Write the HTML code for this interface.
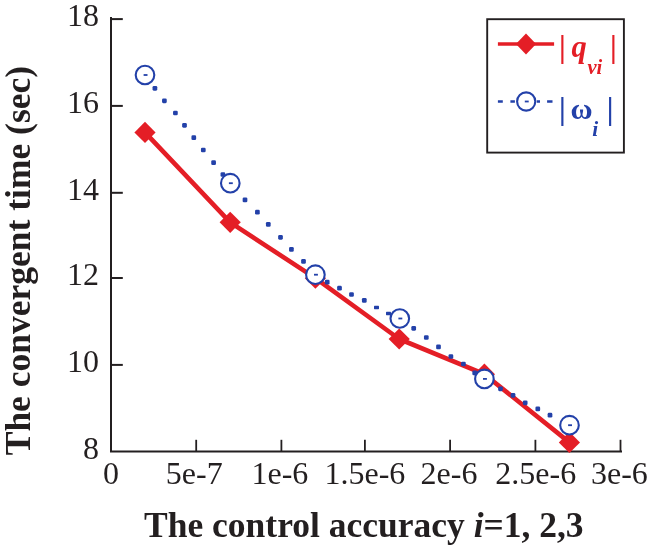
<!DOCTYPE html>
<html><head><meta charset="utf-8"><style>
html,body{margin:0;padding:0;background:#fff;}
svg{display:block;}
</style></head><body>
<svg width="648" height="549" viewBox="0 0 648 549">
<rect width="648" height="549" fill="#fff"/>
<g stroke="#231f20" stroke-width="2" fill="none">
<path d="M111 17V452.6M110 451.6H622"/>
<path d="M111 364.9H122.8"/>
<path d="M111 278.0H122.8"/>
<path d="M111 192.8H122.8"/>
<path d="M111 105.9H122.8"/>
<path d="M111 19.1H122.8"/>
<path d="M196.2 439.8V451" stroke-width="1.8"/>
<path d="M281.4 439.8V451" stroke-width="1.8"/>
<path d="M364.9 439.8V451" stroke-width="1.8"/>
<path d="M450.1 439.8V451" stroke-width="1.8"/>
<path d="M535.4 439.8V451" stroke-width="1.8"/>
<path d="M620.5 439.8V451" stroke-width="1.8"/>
</g>
<g font-family="&quot;Liberation Serif&quot;, serif" font-size="32" fill="#231f20" text-anchor="end">
<text x="99" y="458.8">8</text>
<text x="99" y="372.2">10</text>
<text x="99" y="285.3">12</text>
<text x="99" y="200.1">14</text>
<text x="99" y="113.2">16</text>
<text x="99" y="26.4">18</text>
</g>
<g font-family="&quot;Liberation Serif&quot;, serif" font-size="32" fill="#231f20" text-anchor="middle">
<text x="111.1" y="483.6">0</text>
<text x="194.2" y="483.6">5e-7</text>
<text x="279.9" y="483.6">1e-6</text>
<text x="364.9" y="483.6">1.5e-6</text>
<text x="449.0" y="483.6">2e-6</text>
<text x="535.8" y="483.6">2.5e-6</text>
<text x="619.4" y="483.6">3e-6</text>
</g>
<text x="144" y="537.4" font-family="&quot;Liberation Serif&quot;, serif" font-weight="bold" font-size="35.5" fill="#231f20">The control accuracy <tspan font-style="italic">i</tspan>=1, 2,3</text>
<text transform="translate(29.7 455.3) rotate(-90)" font-family="&quot;Liberation Serif&quot;, serif" font-weight="bold" font-size="35.5" fill="#231f20">The convergent time (sec)</text>
<polyline points="145.0,132.4 230.2,222.3 315.4,278.2 399.2,339.0 484.4,374.2 569.4,442.4" fill="none" stroke="#e41e26" stroke-width="4.6" stroke-linejoin="round"/>
<path d="M134.4 132.4L145.0 121.8L155.6 132.4L145.0 143.0Z" fill="#e41e26"/>
<path d="M219.6 222.3L230.2 211.7L240.8 222.3L230.2 232.9Z" fill="#e41e26"/>
<path d="M304.8 278.2L315.4 267.6L326.0 278.2L315.4 288.8Z" fill="#e41e26"/>
<path d="M388.6 339.0L399.2 328.4L409.8 339.0L399.2 349.6Z" fill="#e41e26"/>
<path d="M473.8 374.2L484.4 363.6L495.0 374.2L484.4 384.8Z" fill="#e41e26"/>
<path d="M558.8 442.4L569.4 431.8L580.0 442.4L569.4 453.0Z" fill="#e41e26"/>
<circle cx="145.0" cy="75.0" r="9.3" fill="#fff" stroke="#2341a9" stroke-width="2.1"/><rect x="143.6" y="74.1" width="3.9" height="1.8" fill="#2341a9"/>
<circle cx="230.3" cy="183.2" r="9.3" fill="#fff" stroke="#2341a9" stroke-width="2.1"/><rect x="228.9" y="182.3" width="3.9" height="1.8" fill="#2341a9"/>
<circle cx="315.4" cy="274.7" r="9.3" fill="#fff" stroke="#2341a9" stroke-width="2.1"/><rect x="314.0" y="273.8" width="3.9" height="1.8" fill="#2341a9"/>
<circle cx="399.8" cy="318.5" r="9.3" fill="#fff" stroke="#2341a9" stroke-width="2.1"/><rect x="398.4" y="317.6" width="3.9" height="1.8" fill="#2341a9"/>
<circle cx="484.4" cy="378.9" r="9.3" fill="#fff" stroke="#2341a9" stroke-width="2.1"/><rect x="483.0" y="378.0" width="3.9" height="1.8" fill="#2341a9"/>
<circle cx="569.5" cy="425.2" r="9.3" fill="#fff" stroke="#2341a9" stroke-width="2.1"/><rect x="568.1" y="424.3" width="3.9" height="1.8" fill="#2341a9"/>
<g fill="#2341a9">
<rect x="152.55" y="85.95" width="4.7" height="4.7" rx="1.3"/>
<rect x="162.05" y="98.45" width="4.7" height="4.7" rx="1.3"/>
<rect x="173.05" y="110.65" width="4.7" height="4.7" rx="1.3"/>
<rect x="182.15" y="122.95" width="4.7" height="4.7" rx="1.3"/>
<rect x="191.45" y="135.35" width="4.7" height="4.7" rx="1.3"/>
<rect x="200.95" y="147.65" width="4.7" height="4.7" rx="1.3"/>
<rect x="211.25" y="160.25" width="4.7" height="4.7" rx="1.3"/>
<rect x="220.55" y="172.15" width="4.7" height="4.7" rx="1.3"/>
<rect x="242.65" y="197.55" width="4.7" height="4.7" rx="1.3"/>
<rect x="255.05" y="209.75" width="4.7" height="4.7" rx="1.3"/>
<rect x="265.95" y="222.05" width="4.7" height="4.7" rx="1.3"/>
<rect x="278.15" y="234.95" width="4.7" height="4.7" rx="1.3"/>
<rect x="289.05" y="247.05" width="4.7" height="4.7" rx="1.3"/>
<rect x="301.15" y="259.05" width="4.7" height="4.7" rx="1.3"/>
<rect x="324.85" y="279.75" width="4.7" height="4.7" rx="1.3"/>
<rect x="337.15" y="285.85" width="4.7" height="4.7" rx="1.3"/>
<rect x="349.15" y="292.15" width="4.7" height="4.7" rx="1.3"/>
<rect x="361.95" y="298.05" width="4.7" height="4.7" rx="1.3"/>
<rect x="411.35" y="325.95" width="4.7" height="4.7" rx="1.3"/>
<rect x="423.95" y="335.15" width="4.7" height="4.7" rx="1.3"/>
<rect x="436.15" y="344.55" width="4.7" height="4.7" rx="1.3"/>
<rect x="448.55" y="354.15" width="4.7" height="4.7" rx="1.3"/>
<rect x="461.05" y="361.65" width="4.7" height="4.7" rx="1.3"/>
<rect x="472.35" y="370.55" width="4.7" height="4.7" rx="1.3"/>
<rect x="498.15" y="386.45" width="4.7" height="4.7" rx="1.3"/>
<rect x="510.65" y="392.95" width="4.7" height="4.7" rx="1.3"/>
<rect x="522.85" y="400.45" width="4.7" height="4.7" rx="1.3"/>
<rect x="535.45" y="406.55" width="4.7" height="4.7" rx="1.3"/>
<rect x="547.65" y="412.85" width="4.7" height="4.7" rx="1.3"/>
<rect x="374.00" y="305.80" width="5" height="3.4" rx="0.6"/>
<rect x="386.00" y="311.80" width="5" height="3.4" rx="0.6"/>
</g>
<rect x="487.2" y="19.2" width="136.7" height="133.4" fill="#fff" stroke="#231f20" stroke-width="1.9"/>
<path d="M497.9 44H554.1" stroke="#e41e26" stroke-width="3.4"/>
<path d="M515.9 44.0L526.0 33.6L536.1 44.0L526.0 54.4Z" fill="#e41e26"/>
<path d="M497.9 101.5h4.9M510.4 101.5h4.5M536.8 101.5h3.2M547.1 101.5h5.4" stroke="#2341a9" stroke-width="2.7"/>
<circle cx="526.2" cy="101.5" r="9.1" fill="#fff" stroke="#2341a9" stroke-width="2.1"/><rect x="524.8" y="100.6" width="3.9" height="1.8" fill="#2341a9"/>
<g fill="#e41e26"><text x="558.9" y="57.2" font-size="30.6" font-family="&quot;Liberation Serif&quot;, serif" font-weight="bold">|</text><text x="571.5" y="57.1" font-size="30.5" font-family="&quot;Liberation Serif&quot;, serif" font-weight="bold" font-style="italic">q</text><text x="587.4" y="73.8" font-size="20.5" font-family="&quot;Liberation Serif&quot;, serif" font-weight="bold" font-style="italic">vi</text><text x="609.9" y="57.2" font-size="30.6" font-family="&quot;Liberation Serif&quot;, serif" font-weight="bold">|</text></g>
<g fill="#2341a9"><text x="558.9" y="119" font-size="30.6" font-family="&quot;Liberation Serif&quot;, serif" font-weight="bold">|</text><text x="570.6" y="118.9" font-size="30.2" font-family="&quot;Liberation Serif&quot;, serif" font-weight="bold">ω</text><text x="592.3" y="135.6" font-size="21.4" font-family="&quot;Liberation Serif&quot;, serif" font-weight="bold" font-style="italic">i</text><text x="606.8" y="119" font-size="30.6" font-family="&quot;Liberation Serif&quot;, serif" font-weight="bold">|</text></g>
</svg>
</body></html>
